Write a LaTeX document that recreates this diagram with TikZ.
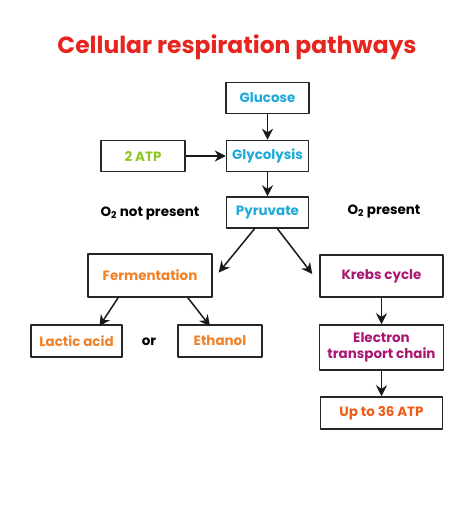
\documentclass[tikz,border=0pt]{standalone}
\usepackage{fontspec}
\setmainfont{Poppins}
\usetikzlibrary{arrows.meta}
\definecolor{titlered}{RGB}{230,38,30}
\definecolor{sugarblue}{RGB}{28,170,215}
\definecolor{atpgreen}{RGB}{140,200,30}
\definecolor{fermorange}{RGB}{240,128,38}
\definecolor{krebsmag}{RGB}{172,22,115}
\definecolor{yieldorange}{RGB}{240,92,22}
\tikzset{
  box/.style={draw=black!85, line width=1.5bp, minimum height=31bp, inner sep=0pt,
    font=\fontsize{13.5}{15}\selectfont\bfseries, align=center},
  flow/.style={-{Stealth[length=11bp,width=11bp]}, line width=1.5bp, black!90},
  note/.style={font=\fontsize{13.5}{15}\selectfont\bfseries, black}
}
\begin{document}
\begin{tikzpicture}[x=1bp, y=-1bp, line join=round, line cap=round]
	\useasboundingbox[fill=white] (0,0) rectangle (474,505);
	% title
	\node[font=\fontsize{23.5}{27}\selectfont\bfseries, text=titlered] (title) at (237,47) {Cellular respiration pathways};
	% glycolysis column
	\node[box, minimum width=83bp, text=sugarblue] (glucose) at (267.5,98) {Glucose};
	\node[box, minimum width=84bp, text=atpgreen] (atp) at (143,156) {2 ATP};
	\node[box, minimum width=82bp, text=sugarblue] (glycolysis) at (267.5,156) {Glycolysis};
	\node[box, minimum width=82bp, text=sugarblue] (pyruvate) at (267.5,212.5) {Pyruvate};
	\node[note] (noox) at (150,213) {O\textsubscript{2} not present};
	\node[note] (ox) at (384,211) {O\textsubscript{2} present};
	% anaerobic branch
	\node[box, minimum width=124bp, minimum height=43bp, text=fermorange] (ferm) at (150,275.5) {Fermentation};
	\node[box, minimum width=91bp, minimum height=32bp, text=fermorange] (lactic) at (76.5,341) {Lactic acid};
	\node[note] (or) at (149,342) {or};
	\node[box, minimum width=84bp, minimum height=32bp, text=fermorange] (ethanol) at (220,341) {Ethanol};
	% aerobic branch
	\node[box, minimum width=123bp, minimum height=42bp, text=krebsmag] (krebs) at (381.5,276) {Krebs cycle};
	\node[box, minimum width=124bp, minimum height=45bp, text=krebsmag, font=\fontsize{13.5}{16}\selectfont\bfseries] (etc) at (381.5,347.5) {Electron\\transport chain};
	\node[box, minimum width=122bp, minimum height=32bp, text=yieldorange] (yield) at (381.5,413) {Up to 36 ATP};
	% arrows
	\draw[flow] (glucose) -- (glycolysis);
	\draw[flow] (atp) -- (glycolysis);
	\draw[flow] (glycolysis) -- (pyruvate);
	\draw[flow] ([xshift=-13]pyruvate.south) -- ([xshift=6,yshift=3]ferm.east);
	\draw[flow] ([xshift=10]pyruvate.south) -- ([xshift=-7,yshift=2]krebs.west);
	\draw[flow] ([xshift=-32]ferm.south) -- ([xshift=23,yshift=-2]lactic.north);
	\draw[flow] ([xshift=38]ferm.south) -- ([xshift=-10,yshift=-2]ethanol.north);
	\draw[flow] (krebs) -- (etc);
	\draw[flow] (etc) -- (yield);
\end{tikzpicture}
\end{document}
